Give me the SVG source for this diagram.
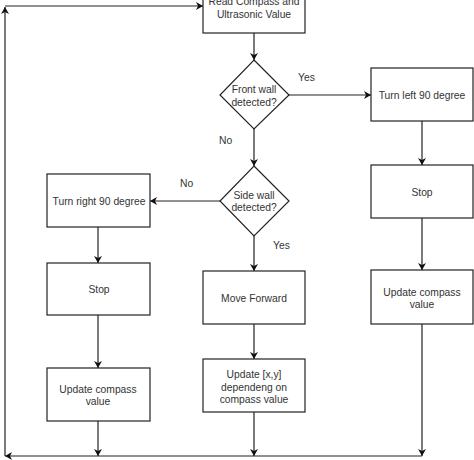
<svg xmlns="http://www.w3.org/2000/svg" width="474" height="460" viewBox="0 0 474 460">
<style>
.box{fill:#fff;stroke:#222;stroke-width:1.2}
.ln{fill:none;stroke:#222;stroke-width:1.2}
text{font-family:"Liberation Sans",Arial,sans-serif;font-size:10.3px;fill:#333;text-anchor:middle;dominant-baseline:central}
.lb{text-anchor:start}
</style>
<defs>
<marker id="ah" markerWidth="8" markerHeight="8" refX="7" refY="4" orient="auto" markerUnits="userSpaceOnUse">
<path d="M0,0 L7,4 L0,8 L2,4 z" fill="#111"/>
</marker>
</defs>
<rect width="474" height="460" fill="#fff"/>
<g id="connectors">
<path class="ln" d="M254,33 V60" marker-end="url(#ah)"/>
<path class="ln" d="M289,95 H371" marker-end="url(#ah)"/>
<path class="ln" d="M254,129 V166" marker-end="url(#ah)"/>
<path class="ln" d="M220,201 H150" marker-end="url(#ah)"/>
<path class="ln" d="M254,236 V271" marker-end="url(#ah)"/>
<path class="ln" d="M254,324 V359" marker-end="url(#ah)"/>
<path class="ln" d="M254,412 V456" marker-end="url(#ah)"/>
<path class="ln" d="M98,227 V263" marker-end="url(#ah)"/>
<path class="ln" d="M98,315 V368" marker-end="url(#ah)"/>
<path class="ln" d="M98,421 V456" marker-end="url(#ah)"/>
<path class="ln" d="M422,121 V165" marker-end="url(#ah)"/>
<path class="ln" d="M422,218 V270" marker-end="url(#ah)"/>
<path class="ln" d="M422,324 V456" marker-end="url(#ah)"/>
<path class="ln" d="M422,456 H5" marker-end="url(#ah)"/>
<path class="ln" d="M5,456 V7" marker-end="url(#ah)"/>
<path class="ln" d="M5,6 H203" marker-end="url(#ah)"/>
<text class="lb" x="298" y="77">Yes</text>
<text class="lb" x="219" y="140">No</text>
<text class="lb" x="180" y="183">No</text>
<text class="lb" x="273" y="245">Yes</text>
</g>
<g id="read">
<rect class="box" x="203" y="-25" width="102" height="58"/>
<text x="254" y="1">Read Compass and</text>
<text x="254" y="14">Ultrasonic Value</text>
</g>
<g id="front">
<path class="box" d="M254,60 L289,95 L254,129 L220,95 z"/>
<text x="254" y="89">Front wall</text>
<text x="254" y="102">detected?</text>
</g>
<g id="turnleft">
<rect class="box" x="371" y="68" width="102" height="53"/>
<text x="422" y="95">Turn left 90 degree</text>
</g>
<g id="stop1">
<rect class="box" x="371" y="165" width="102" height="53"/>
<text x="422" y="192">Stop</text>
</g>
<g id="update1">
<rect class="box" x="371" y="270" width="102" height="54"/>
<text x="422" y="292">Update compass</text>
<text x="422" y="304">value</text>
</g>
<g id="side">
<path class="box" d="M254,166 L289,201 L254,236 L220,201 z"/>
<text x="254" y="195">Side wall</text>
<text x="254" y="207">detected?</text>
</g>
<g id="turnright">
<rect class="box" x="47" y="174" width="103" height="53"/>
<text x="99" y="201">Turn right 90 degree</text>
</g>
<g id="stop2">
<rect class="box" x="47" y="263" width="103" height="52"/>
<text x="99" y="289">Stop</text>
</g>
<g id="update2">
<rect class="box" x="47" y="368" width="103" height="53"/>
<text x="98" y="389">Update compass</text>
<text x="98" y="401">value</text>
</g>
<g id="move">
<rect class="box" x="203" y="271" width="102" height="53"/>
<text x="254" y="298">Move Forward</text>
</g>
<g id="updatexy">
<rect class="box" x="203" y="359" width="102" height="53"/>
<text x="254" y="374">Update [x,y]</text>
<text x="254" y="387">dependeng on</text>
<text x="254" y="399">compass value</text>
</g>
</svg>
